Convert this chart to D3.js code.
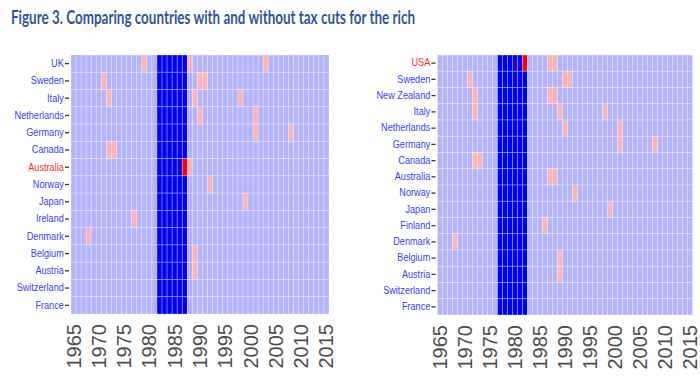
<!DOCTYPE html>
<html lang="en">
<head>
<meta charset="UTF-8">
<title>Figure 3</title>
<script src="https://d3js.org/d3.v7.min.js"></script>
<style>
  body { margin: 0; background: #fff; }
  svg { display: block; }
</style>
</head>
<body>
<svg id="chart" width="700" height="386"></svg>
<script>
// years shown on both panels and the labelled ticks
const years = d3.range(1965, 2016)
const yearTicks = [1965, 1970, 1975, 1980, 1985, 1990, 1995, 2000, 2005, 2010, 2015]

// left panel: countries, tax-cut years (pink), highlighted cut (red), dark band
const leftCountries = ['UK', 'Sweden', 'Italy', 'Netherlands', 'Germany', 'Canada', 'Australia',
  'Norway', 'Japan', 'Ireland', 'Denmark', 'Belgium', 'Austria', 'Switzerland', 'France']
const leftCuts = [
  ['UK', 1979], ['UK', 1988], ['UK', 2003],
  ['Sweden', 1971], ['Sweden', 1990], ['Sweden', 1991],
  ['Italy', 1972], ['Italy', 1989], ['Italy', 1998],
  ['Netherlands', 1990], ['Netherlands', 2001],
  ['Germany', 2001], ['Germany', 2008],
  ['Canada', 1972], ['Canada', 1973],
  ['Australia', 1988],
  ['Norway', 1992], ['Japan', 1999], ['Ireland', 1977], ['Denmark', 1968],
  ['Belgium', 1989], ['Austria', 1989]
]
const leftRed = [['Australia', 1987]]
const leftBand = [1982, 1983, 1984, 1985, 1986, 1987]

// right panel
const rightCountries = ['USA', 'Sweden', 'New Zealand', 'Italy', 'Netherlands', 'Germany', 'Canada',
  'Australia', 'Norway', 'Japan', 'Finland', 'Denmark', 'Belgium', 'Austria', 'Switzerland', 'France']
const rightCuts = [
  ['USA', 1987], ['USA', 1988],
  ['Sweden', 1971], ['Sweden', 1990], ['Sweden', 1991],
  ['New Zealand', 1972], ['New Zealand', 1987], ['New Zealand', 1988],
  ['Italy', 1972], ['Italy', 1989], ['Italy', 1998],
  ['Netherlands', 1990], ['Netherlands', 2001],
  ['Germany', 2001], ['Germany', 2008],
  ['Canada', 1972], ['Canada', 1973],
  ['Australia', 1987], ['Australia', 1988],
  ['Norway', 1992], ['Japan', 1999], ['Finland', 1986], ['Denmark', 1968],
  ['Belgium', 1989], ['Austria', 1989]
]
const rightRed = [['USA', 1982]]
const rightBand = [1977, 1978, 1979, 1980, 1981, 1982]

const colors = {base: '#b3b3ff', band: '#0000ff', cut: '#ffb3b3', red: '#ff0000'}

const svg = d3.select('#chart')

svg.append('text')
  .attr('x', 11).attr('y', 24)
  .attr('font-family', 'Lato, "Open Sans", sans-serif')
  .attr('font-weight', 'bold')
  .attr('font-size', 19)
  .attr('fill', '#2f5597')
  .attr('textLength', 404)
  .attr('lengthAdjust', 'spacingAndGlyphs')
  .text('Figure 3. Comparing countries with and without tax cuts for the rich')

const panels = [
  {countries: leftCountries, cuts: leftCuts, red: leftRed, band: leftBand, mark: 'Australia',
    left: 71, right: 329, top: 55, bottom: 314},
  {countries: rightCountries, cuts: rightCuts, red: rightRed, band: rightBand, mark: 'USA',
    left: 437.5, right: 692.5, top: 55, bottom: 315}
]

panels.forEach(p => {
  let x = d3.scaleBand().domain(years).range([p.left, p.right])
  let y = d3.scaleBand().domain(p.countries).range([p.top, p.bottom])

  let key = (c, yr) => c + '|' + yr
  let cat = new Map()
  p.cuts.forEach(d => cat.set(key(d[0], d[1]), 'cut'))
  p.red.forEach(d => cat.set(key(d[0], d[1]), 'red'))

  let cells = []
  p.countries.forEach(c => years.forEach(yr => {
    let k = cat.get(key(c, yr)) || (p.band.includes(yr) ? 'band' : 'base')
    cells.push({c, yr, k})
  }))

  let g = svg.append('g')

  g.selectAll('rect')
    .data(cells)
    .join('rect')
    .attr('x', d => x(d.yr))
    .attr('y', d => y(d.c))
    .attr('width', x.bandwidth())
    .attr('height', y.bandwidth())
    .attr('fill', d => colors[d.k])
    .attr('stroke', '#fff')
    .attr('stroke-opacity', 0.35)
    .attr('stroke-width', 0.8)

  // country axis
  let ya = g.append('g')
    .attr('transform', `translate(${p.left - 2},0)`)
    .call(d3.axisLeft(y).tickSize(4).tickPadding(2))
  ya.select('.domain').remove()
  ya.selectAll('line').attr('stroke', '#333').attr('stroke-width', 1.3)
  ya.selectAll('text')
    .attr('font-family', '"Liberation Sans", Arial, sans-serif')
    .attr('font-size', 10.5)
    .attr('transform', 'scale(0.87,1)')
    .attr('fill', d => d === p.mark ? '#ff2a2a' : '#3c3cff')

  // year axis
  let xa = g.append('g')
    .attr('transform', `translate(0,${p.bottom})`)
    .call(d3.axisBottom(x).tickValues(yearTicks).tickSize(0))
  xa.select('.domain').remove()
  xa.selectAll('text')
    .attr('font-family', '"Liberation Sans", Arial, sans-serif')
    .attr('font-size', 20)
    .attr('fill', '#4d4d4d')
    .attr('transform', 'rotate(-90)')
    .attr('text-anchor', 'end')
    .attr('x', -10)
    .attr('y', 0)
    .attr('dy', '0.35em')
})
</script>
</body>
</html>
